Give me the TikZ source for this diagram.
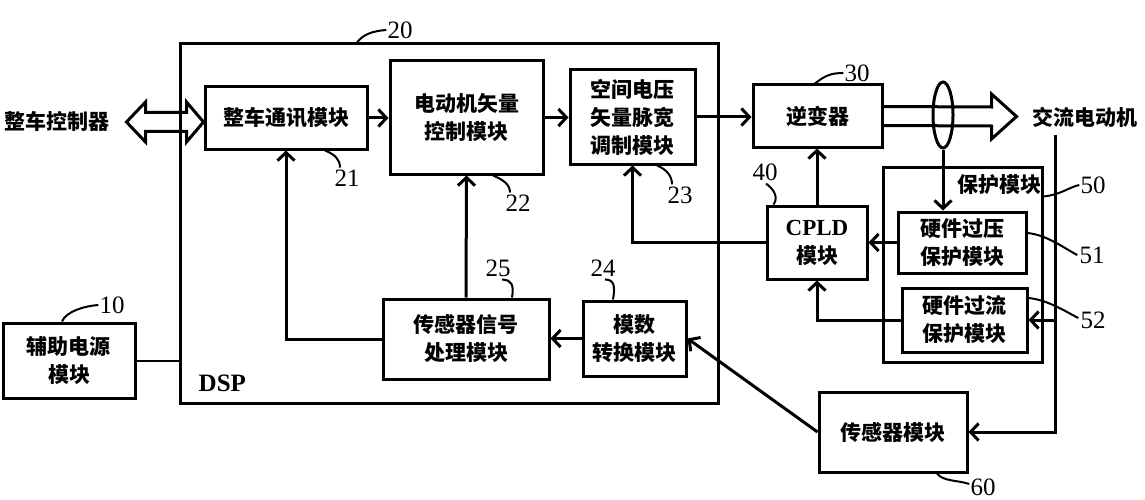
\documentclass[tikz,border=0pt]{standalone}
\usepackage{fontspec}
\setmainfont{Liberation Serif}
\newfontfamily\cjk{Noto Sans CJK SC}
\usetikzlibrary{arrows.meta, calc, shapes.geometric, positioning}

\tikzset{
 blk/.style={draw, line width=3pt, inner sep=0pt, align=center,
  font=\cjk\bfseries\fontsize{21}{28}\selectfont},
 cn/.style={inner sep=2pt, font=\cjk\bfseries\fontsize{21}{28}\selectfont},
 lbl/.style={inner sep=0pt, font=\fontsize{25}{25}\selectfont},
 lead/.style={line width=2pt},
 flow/.style={line width=3pt, -{Straight Barb[length=8pt,width=17pt]}},
 hollow/.style={line width=3pt, line join=miter},
}

\begin{document}
\begin{tikzpicture}[x=1pt,y=-1pt]
\useasboundingbox (0,0) rectangle (1145,500);

 %blocks:
 \node[blk, minimum width=538pt, minimum height=359pt] (dsp) at (449,223.5) {};
 \node[inner sep=0pt, anchor=south west, font=\bfseries\fontsize{25}{25}\selectfont] (dsplbl) at ($(dsp.south west)+(20,-13)$) {DSP};
 \node[blk, minimum width=162pt, minimum height=62pt] (comm) at (286,118) {整车通讯模块};
 \node[blk, minimum width=153pt, minimum height=113pt] (vec) at (466.5,117.5) {电动机矢量\\控制模块};
 \node[blk, minimum width=125pt, minimum height=94pt] (svpwm) at (632.5,117) {空间电压\\矢量脉宽\\调制模块};
 \node[blk, minimum width=129pt, minimum height=62pt] (inv) at (817.5,116) {逆变器};
 \node[blk, minimum width=100pt, minimum height=73pt] (cpld) at (817,242.5) {{\rmfamily\fontsize{23}{28}\selectfont CPLD}\\模块};
 \node[blk, minimum width=159pt, minimum height=195pt] (prot) at (962.5,264.5) {};
 \node[cn, anchor=north east] (protlbl) at ($(prot.north east)+(0,7)$) {保护模块};
 \node[blk, minimum width=128pt, minimum height=61pt] (ov) at (962,242.5) {硬件过压\\保护模块};
 \node[blk, minimum width=125pt, minimum height=64pt] (oc) at (964.5,320) {硬件过流\\保护模块};
 \node[blk, minimum width=166pt, minimum height=80pt] (sigproc) at (466,339) {传感器信号\\处理模块};
 \node[blk, minimum width=103pt, minimum height=75pt] (adc) at (634.5,338.5) {模数\\转换模块};
 \node[blk, minimum width=148pt, minimum height=80pt] (sens) at (893,432) {传感器模块};
 \node[blk, minimum width=132pt, minimum height=75pt] (aux) at (69,360.5) {辅助电源\\模块};
 \node[cn] (vcu) at (57,121) {整车控制器};
 \node[cn] (motor) at (1085,117) {交流电动机};

 %numbers:
 \node[lbl] (n10) at (112,305) {10};
 \node[lbl] (n20) at (400,30) {20};
 \node[lbl] (n21) at (347,178) {21};
 \node[lbl] (n22) at (518,203) {22};
 \node[lbl] (n23) at (680,195) {23};
 \node[lbl] (n24) at (603,268) {24};
 \node[lbl] (n25) at (498,268) {25};
 \node[lbl] (n30) at (857,73) {30};
 \node[lbl] (n40) at (765,172) {40};
 \node[lbl] (n50) at (1093,185) {50};
 \node[lbl] (n51) at (1092,255) {51};
 \node[lbl] (n52) at (1093,320) {52};
 \node[lbl] (n60) at (983,487) {60};

 %leaders:
 \draw[lead] ($(aux.north)+(-7,0)$) .. controls +(4,-10) and +(-14,1) .. ($(n10.west)+(-1,0)$);
 \draw[lead] ($(dsp.north)+(-92,0)$) .. controls +(6,-8) and +(-14,1) .. ($(n20.west)+(-1,0)$);
 \draw[lead] ($(comm.south)+(39,0)$) .. controls +(10,4) and +(0,-8) .. ($(n21.north)+(-7,-2)$);
 \draw[lead] ($(vec.south)+(26.5,0)$) .. controls +(10,4) and +(0,-8) .. ($(n22.north)+(-8,-2)$);
 \draw[lead] ($(svpwm.south)+(24.5,0)$) .. controls +(10,4) and +(0,-8) .. ($(n23.north)+(-8,-2)$);
 \draw[lead] ($(adc.north)+(-21.5,0)$) .. controls +(2,-12) and +(10,0) .. ($(n24.south)+(2,3)$);
 \draw[lead] ($(sigproc.north)+(46,0)$) .. controls +(2,-12) and +(10,0) .. ($(n25.south)+(4,3)$);
 \draw[lead] ($(inv.north)+(-2.5,0)$) .. controls +(10,-8) and +(-12,0) .. ($(n30.west)+(-1,0)$);
 \draw[lead] ($(cpld.north west)+(8,0)$) .. controls +(6,-8) and +(6,4) .. ($(n40.south)+(1,3)$);
 \draw[lead] ($(prot.north east)+(0,31)$) .. controls +(18,-2) and +(-10,2) .. ($(n50.west)+(-1,0)$);
 \draw[lead] ($(ov.east)+(0,-9.5)$) .. controls +(20,2) and +(-12,-6) .. ($(n51.west)+(-2,0)$);
 \draw[lead] ($(oc.east)+(0,-22)$) .. controls +(20,2) and +(-12,-6) .. ($(n52.west)+(-2,-2)$);
 \draw[lead] ($(sens.south)+(44,0)$) .. controls +(6,8) and +(-12,-4) .. ($(n60.west)+(-1,-3)$);

 %hollow arrows:
 \coordinate (br) at ($(comm.west)+(0,4)$);
 \coordinate (bl) at ($(br)+(-77,0)$);
 \draw[hollow] (bl) -- ++(19,-20) -- ++(0,10.5) -- ($(br)+(-17,-9.5)$) -- ++(0,-10.5) -- (br)
  -- ++(-17,20) -- ++(0,-10.5) -- ($(bl)+(19,9.5)$) -- ++(0,10.5) -- cycle;
 \coordinate (otip) at ($(inv.east)+(133,0.5)$);
 \draw[hollow] ($(inv.east)+(0,-9.5)$) -- ($(otip)+(-25,-9.5)$) -- ++(0,-13) -- (otip)
  -- ($(otip)+(-25,22.5)$) -- ++(0,-13) -- ($(inv.east)+(0,9.5)$);
 \node[draw, ellipse, line width=3pt, minimum width=20pt, minimum height=66pt, inner sep=0pt] (ring) at (943,115) {};

 %signals:
 \draw[flow] (comm.east) -- (comm.east -| vec.west);
 \draw[flow] (vec.east) -- (vec.east -| svpwm.west);
 \draw[flow] (svpwm.east) -- (svpwm.east -| inv.west);
 \draw[flow] (sigproc.north) -- (vec.south);
 \draw[flow] (sigproc.west) -| (comm.south);
 \draw[flow] (adc.west) -- (adc.west -| sigproc.east);
 \draw[flow] (sens.west) -- (adc.east);
 \draw[flow] (cpld.north) -- (cpld.north |- inv.south);
 \draw[flow] (cpld.west) -| (svpwm.south);
 \draw[flow] (ov.west) -- (ov.west -| cpld.east);
 \draw[flow] (oc.west) -| (cpld.south);
 \draw[flow] (ring.south) -- (ring.south |- ov.north);
 \coordinate (mtap) at ($(motor.south)+(-30,6)$);
 \draw[flow] (mtap) |- (sens.east);
 \draw[flow] (mtap |- oc.east) -- (oc.east);
 \draw[line width=2pt] (aux.east) -- (aux.east -| dsp.west);
\end{tikzpicture}
\end{document}
